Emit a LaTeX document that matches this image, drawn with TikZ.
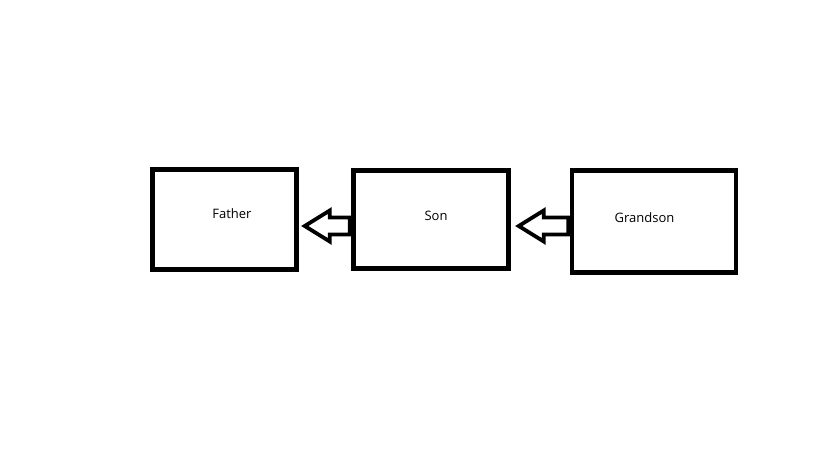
\documentclass[tikz,border=0pt]{standalone}
\usepackage{fontspec}
\setmainfont{Open Sans}
\usetikzlibrary{calc}
\tikzset{
  gen/.style={draw=black,line width=4.5pt,fill=white,inner sep=0pt},
  genname/.style={font=\fontsize{13}{15}\selectfont,text=black,inner sep=0pt},
  hollow/.style={draw=black,line width=3.8pt,line join=miter,fill=white}
}
% hollow block arrow: tip next to #1, tail on #2, #3 = gap at the tip
\newcommand{\inheritarrow}[3]{
 \coordinate (tip) at ($(#1.east)+(#3,6.5)$);
 \coordinate (tail) at (#2.west |- tip);
 \draw[hollow] (tip) -- ++(25,-15.5) -- ++(0,7) -- ($(tail)+(-1.5,-8.5)$)
   -- ($(tail)+(-1.5,8.5)$) -- ($(tip)+(25,8.5)$) -- ($(tip)+(25,15.5)$) -- cycle;
}
\begin{document}
\begin{tikzpicture}[x=1pt,y=-1pt]
 \useasboundingbox[fill=white] (0,0) rectangle (819,460);
 \node[gen,minimum width=144pt,minimum height=100pt] (father) at (224.5,219.5) {};
 \node[gen,minimum width=155pt,minimum height=98pt] (son) at (431,219.5) {};
 \node[gen,minimum width=164pt,minimum height=102pt] (grandson) at (654,221.5) {};
 \node[genname] (fathername) at (232,214) {Father};
 \node[genname] (sonname) at (436,216) {Son};
 \node[genname] (grandsonname) at (644.5,218) {Grandson};
 \inheritarrow{father}{son}{6}
 \inheritarrow{son}{grandson}{8}
\end{tikzpicture}
\end{document}
